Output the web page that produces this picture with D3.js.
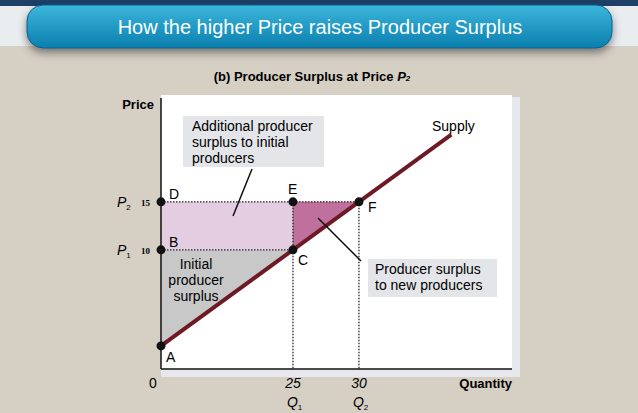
<!DOCTYPE html>
<html><head><meta charset="utf-8">
<script src="https://cdn.jsdelivr.net/npm/d3@7"></script>
<style>body{margin:0;background:#d5cfc4;font-family:"Liberation Sans",Arial,sans-serif}</style>
</head><body>
<script>
// quantity / price points (schematic: origin sits at q=15, p=-2.4)
const pointNames = ['A', 'B', 'C', 'D', 'E', 'F'];
const pointQ = [15, 15, 25, 15, 25, 30];
const pointP = [0, 10, 10, 15, 15, 15];
const supplyQ = [15, 37];
const supplyP = [0, 22];
const priceTicks = [10, 15];
const quantityTicks = [25, 30];

const W = 638, H = 413;
const svg = d3.select('body').append('svg').attr('width', W).attr('height', H);
const defs = svg.append('defs');
const g1 = defs.append('linearGradient').attr('id', 'pill').attr('x1', 0).attr('x2', 0).attr('y1', 0).attr('y2', 1);
g1.append('stop').attr('offset', 0).attr('stop-color', '#3cb6dc');
g1.append('stop').attr('offset', 1).attr('stop-color', '#0b7fae');
const f = defs.append('filter').attr('id', 'sh').attr('x', -0.1).attr('y', -0.2).attr('width', 1.2).attr('height', 1.6);
f.append('feDropShadow').attr('dx', 0).attr('dy', 4).attr('stdDeviation', 4).attr('flood-opacity', 0.45);

// header
svg.append('rect').attr('width', W).attr('height', 6).attr('fill', '#1e3f66');
svg.append('rect').attr('x', 0).attr('y', 6).attr('width', W).attr('height', 40).attr('fill', '#e9edf0');
svg.append('rect').attr('x', 27).attr('y', 5).attr('width', 585).attr('height', 43).attr('rx', 16)
    .attr('fill', 'url(#pill)').attr('stroke', '#0a5f86').attr('filter', 'url(#sh)');
svg.append('text').attr('x', 320).attr('y', 34).attr('text-anchor', 'middle').attr('fill', '#fff')
    .attr('font-size', 20).text('How the higher Price raises Producer Surplus');

svg.append('text').attr('x', 312).attr('y', 81).attr('text-anchor', 'middle').attr('font-size', 13)
    .attr('font-weight', 'bold').text('(b) Producer Surplus at Price ')
    .append('tspan').attr('font-style', 'italic').text('P')
    .append('tspan').attr('font-size', 8).text('2');

// plot panel
const x = d3.scaleLinear().domain([15, 41.6]).range([161, 512]);
const y = d3.scaleLinear().domain([-2.4, 25.6]).range([369, 100]);
svg.append('rect').attr('x', 512).attr('y', 97).attr('width', 8).attr('height', 280).attr('fill', '#e6e8ee');
svg.append('rect').attr('x', 161).attr('y', 369).attr('width', 359).attr('height', 8).attr('fill', '#e6e8ee');
svg.append('rect').attr('x', 161).attr('y', 95).attr('width', 351).attr('height', 274).attr('fill', '#fff');

const pt = i => [x(pointQ[i]), y(pointP[i])];
const [A, B, C, D, E, F] = pointNames.map((_, i) => pt(i));
svg.append('path').attr('d', d3.line()([A, B, C])).attr('fill', '#c8c8c8');
svg.append('path').attr('d', d3.line()([B, D, E, C])).attr('fill', '#e4cde0');
svg.append('path').attr('d', d3.line()([C, E, F])).attr('fill', '#c0709d');

// dotted guides
const dot = (a, b) => svg.append('line').attr('x1', a[0]).attr('y1', a[1]).attr('x2', b[0]).attr('y2', b[1])
    .attr('stroke', '#222').attr('stroke-width', 1.3).attr('stroke-dasharray', '1.5,1.5');
dot(D, F); dot(B, C);
dot(C, [C[0], y(-2.4)]); dot(E, C); dot(F, [F[0], y(-2.4)]);

// axes
svg.append('line').attr('x1', 161).attr('x2', 161).attr('y1', 98).attr('y2', 369).attr('stroke', '#111').attr('stroke-width', 1.5);
svg.append('line').attr('x1', 161).attr('x2', 512).attr('y1', 369).attr('y2', 369).attr('stroke', '#111').attr('stroke-width', 1.5);

// supply
svg.append('path').attr('d', d3.line()(supplyQ.map((q, i) => [x(q), y(supplyP[i])])))
    .attr('stroke', '#6e1a24').attr('stroke-width', 4).attr('fill', 'none');

svg.selectAll('circle.pt').data(pointNames).join('circle').attr('class', 'pt')
    .attr('cx', (d, i) => x(pointQ[i])).attr('cy', (d, i) => y(pointP[i])).attr('r', 4.5).attr('fill', '#111');

const lab = { A: [5, 16], B: [8, -3], C: [5, 15], D: [8, -3], E: [-5, -8], F: [9, 10] };
svg.selectAll('text.pl').data(pointNames).join('text').attr('class', 'pl')
    .attr('x', (d, i) => x(pointQ[i]) + lab[d][0]).attr('y', (d, i) => y(pointP[i]) + lab[d][1])
    .attr('font-size', 14).text(d => d);

// tick labels
const pLab = ['1', '2'];
priceTicks.forEach((p, i) => {
    svg.append('text').attr('x', 150).attr('y', y(p) + 4).attr('text-anchor', 'end').attr('font-family', 'Liberation Serif')
        .attr('font-size', 9).attr('font-weight', 'bold').text(p);
    const t = svg.append('text').attr('x', 117).attr('y', y(p) + 5).attr('font-size', 14).attr('font-style', 'italic').text('P');
    t.append('tspan').attr('font-size', 8).attr('font-style', 'normal').attr('dy', 3).text(pLab[i]);
});
quantityTicks.forEach((q, i) => {
    svg.append('text').attr('x', x(q)).attr('y', 388).attr('text-anchor', 'middle').attr('font-size', 14)
        .attr('font-style', 'italic').text(q);
    const t = svg.append('text').attr('x', x(q) - 6).attr('y', 407).attr('font-size', 14).attr('font-style', 'italic').text('Q');
    t.append('tspan').attr('font-size', 8).attr('font-style', 'normal').attr('dy', 3).text(pLab[i]);
});
svg.append('text').attr('x', 149).attr('y', 388).attr('font-size', 14).text('0');
svg.append('text').attr('x', 154).attr('y', 109).attr('text-anchor', 'end').attr('font-size', 13).attr('font-weight', 'bold').text('Price');
svg.append('text').attr('x', 512).attr('y', 388).attr('text-anchor', 'end').attr('font-size', 13).attr('font-weight', 'bold').text('Quantity');
svg.append('text').attr('x', 432).attr('y', 131).attr('font-size', 14).text('Supply');

// region labels
const block = (x0, y0, lines, anchor) => {
    const t = svg.append('text').attr('font-size', 14).attr('text-anchor', anchor || 'start');
    lines.forEach((l, i) => t.append('tspan').attr('x', x0).attr('y', y0 + i * 16).text(l));
};
svg.append('rect').attr('x', 183).attr('y', 116).attr('width', 141).attr('height', 51).attr('fill', '#e3e5e9');
block(192, 131, ['Additional producer', 'surplus to initial', 'producers']);
svg.append('line').attr('x1', 252).attr('y1', 169).attr('x2', 233).attr('y2', 216).attr('stroke', '#111').attr('stroke-width', 1.5);
block(196, 269, ['Initial', 'producer', 'surplus'], 'middle');
svg.append('rect').attr('x', 368).attr('y', 259).attr('width', 129).attr('height', 38).attr('fill', '#e3e5e9');
block(375, 274, ['Producer surplus', 'to new producers']);
svg.append('line').attr('x1', 318).attr('y1', 218).attr('x2', 361).attr('y2', 261).attr('stroke', '#111').attr('stroke-width', 1.5);
</script>
</body></html>
